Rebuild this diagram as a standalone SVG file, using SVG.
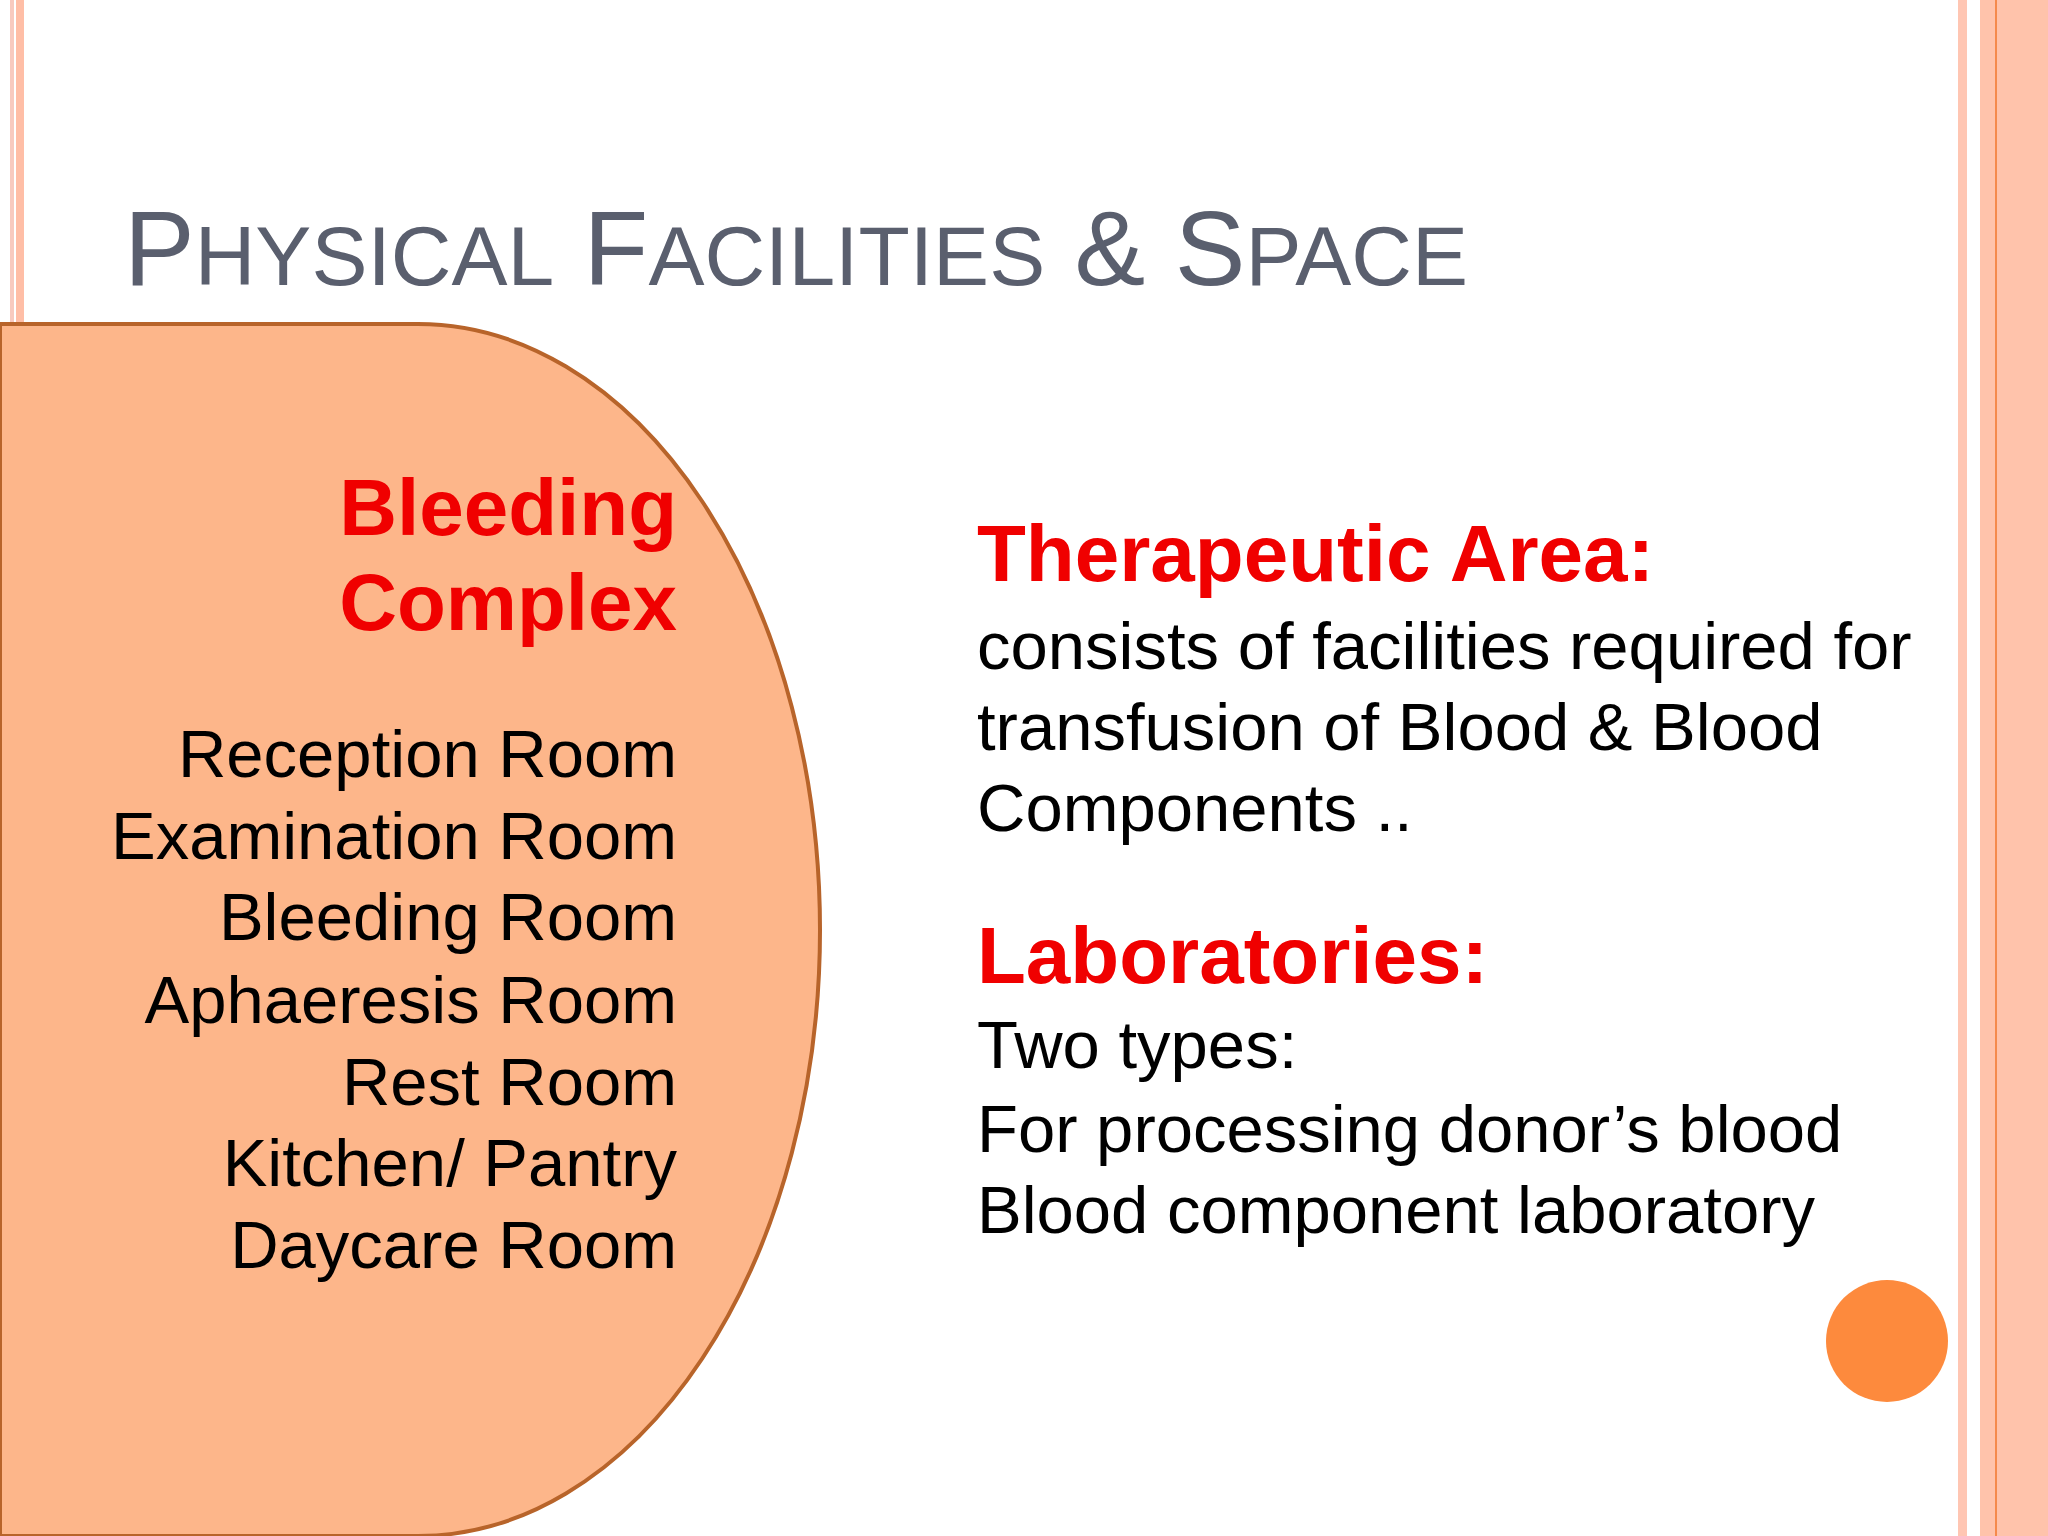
<svg xmlns="http://www.w3.org/2000/svg" width="2048" height="1536" viewBox="0 0 2048 1536">
<style>
.t{font-family:"Liberation Sans",Arial,sans-serif}
.h{font-weight:bold;fill:#f00000;font-size:80px}
.b{fill:#000;font-size:67px}
</style>
<rect width="2048" height="1536" fill="#fff"/>
<g id="borders">
<rect x="10" y="0" width="4" height="1536" fill="#f8cabf"/>
<rect x="16" y="0" width="8" height="1536" fill="#ffbea6"/>
<rect x="1958" y="0" width="9" height="1536" fill="#ffc6b3"/>
<rect x="1980" y="0" width="68" height="1536" fill="#ffc3ab"/>
<rect x="1995" y="0" width="2" height="1536" fill="#f58a4c"/>
</g>
<text class="t" x="124" y="285" fill="#5a5f6e" font-size="106">P<tspan font-size="84">HYSICAL</tspan> F<tspan font-size="84">ACILITIES</tspan> &amp; S<tspan font-size="84">PACE</tspan></text>
<g id="bleeding">
<path d="M0 324 H418 A402 606 0 0 1 418 1536 H0 Z" fill="#fdb68a" stroke="#b8642a" stroke-width="4"/>
<text class="t h" text-anchor="end" x="677" y="535">Bleeding</text>
<text class="t h" text-anchor="end" x="677" y="630">Complex</text>
<g class="t b" text-anchor="end">
<text x="677" y="777">Reception Room</text>
<text x="677" y="859">Examination Room</text>
<text x="677" y="940">Bleeding Room</text>
<text x="677" y="1023">Aphaeresis Room</text>
<text x="677" y="1105">Rest Room</text>
<text x="677" y="1186">Kitchen/ Pantry</text>
<text x="677" y="1268">Daycare Room</text>
</g>
</g>
<g id="therapeutic" class="t">
<text class="h" x="977" y="581">Therapeutic Area:</text>
<text class="b" x="977" y="669">consists of facilities required for</text>
<text class="b" x="977" y="750">transfusion of Blood &amp; Blood</text>
<text class="b" x="977" y="831">Components ..</text>
</g>
<g id="labs" class="t">
<text class="h" x="977" y="983">Laboratories:</text>
<text class="b" x="977" y="1068">Two types:</text>
<text class="b" x="977" y="1152">For processing donor’s blood</text>
<text class="b" x="977" y="1233">Blood component laboratory</text>
</g>
<circle id="dot" cx="1887" cy="1341" r="61" fill="#fd8a3d"/>
</svg>
